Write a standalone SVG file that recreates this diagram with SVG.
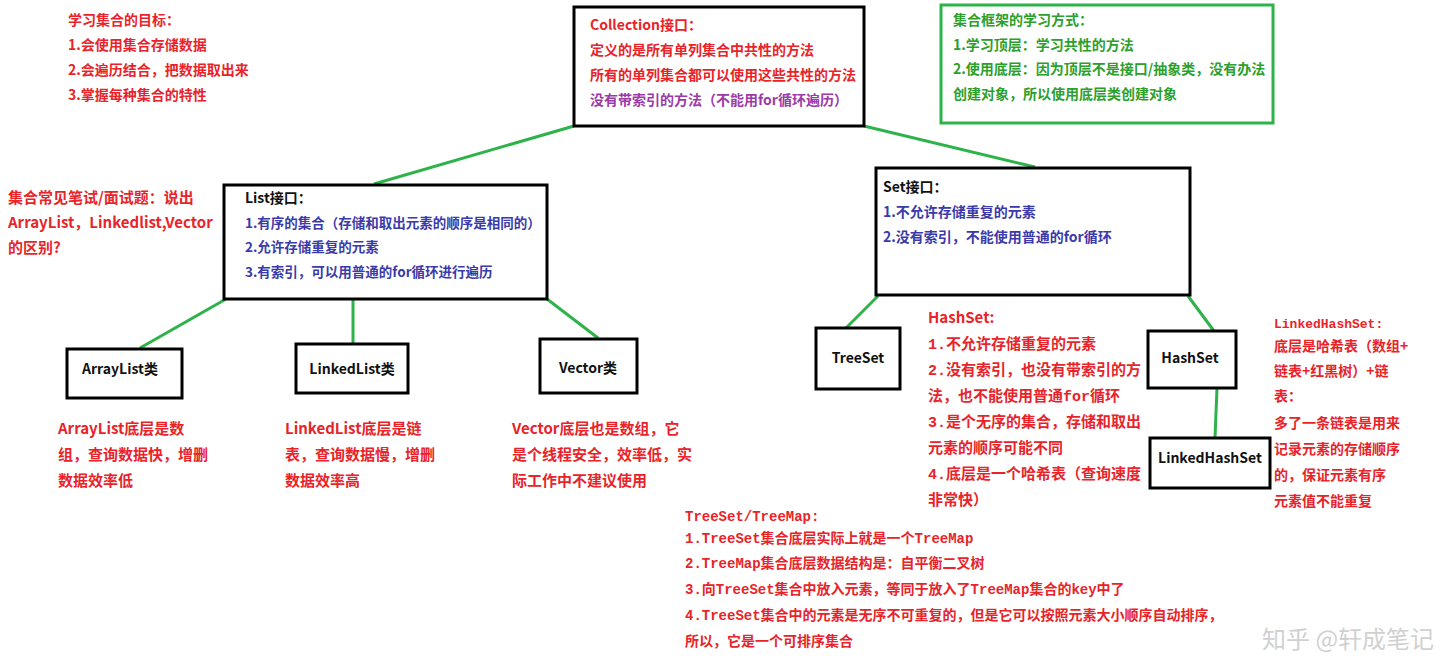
<svg xmlns="http://www.w3.org/2000/svg" width="1440" height="660" viewBox="0 0 1440 660">
<style>
text{font-family:"Microsoft YaHei","Noto Sans CJK SC",sans-serif;font-weight:bold;font-size:14px}
.r{fill:#e8242a}.b{fill:#3a3aaa}.k{fill:#111}.p{fill:#9b3ba8}.g{fill:#2ca02c}
.m{font-family:"Liberation Mono","Noto Sans CJK SC",monospace}
.box{fill:#fff;stroke:#000;stroke-width:3}
.c{stroke:#2eb24a;stroke-width:3;fill:none}
</style>
<rect width="1440" height="660" fill="#fff"/>
<g id="connectors">
<line class="c" x1="574" y1="126" x2="374" y2="184"/>
<line class="c" x1="864" y1="126" x2="1035" y2="167"/>
<line class="c" x1="226" y1="299" x2="140" y2="348"/>
<line class="c" x1="353" y1="299" x2="353" y2="344"/>
<line class="c" x1="547" y1="299" x2="598" y2="338"/>
<line class="c" x1="878" y1="296" x2="846" y2="328"/>
<line class="c" x1="1188" y1="296" x2="1214" y2="331"/>
<line class="c" x1="1217" y1="388" x2="1215" y2="438"/>
</g>
<g id="goals">
<text class="r" x="68" y="25">学习集合的目标：</text>
<text class="r" x="68" y="50">1.会使用集合存储数据</text>
<text class="r" x="68" y="75">2.会遍历结合，把数据取出来</text>
<text class="r" x="68" y="100">3.掌握每种集合的特性</text>
</g>
<g id="question">
<text class="r" x="8" y="203" style="font-size:15px">集合常见笔试/面试题：说出</text>
<text class="r" x="8" y="228" style="font-size:15px">ArrayList，Linkedlist,Vector</text>
<text class="r" x="8" y="253" style="font-size:15px">的区别?</text>
</g>
<g id="collection">
<rect class="box" x="574" y="7" width="290" height="119"/>
<text class="r" x="590" y="30">Collection接口：</text>
<text class="r" x="590" y="55">定义的是所有单列集合中共性的方法</text>
<text class="r" x="590" y="80">所有的单列集合都可以使用这些共性的方法</text>
<text class="p" x="590" y="105">没有带索引的方法（不能用for循环遍历）</text>
</g>
<g id="learning">
<rect x="941" y="5" width="332" height="118" fill="#fff" stroke="#2eb24a" stroke-width="3"/>
<text class="g" x="953" y="25">集合框架的学习方式：</text>
<text class="g" x="953" y="50">1.学习顶层：学习共性的方法</text>
<text class="g" x="953" y="74">2.使用底层：因为顶层不是接口/抽象类，没有办法</text>
<text class="g" x="953" y="99">创建对象，所以使用底层类创建对象</text>
</g>
<g id="list">
<rect class="box" x="224" y="185" width="323" height="114"/>
<text class="k" x="245" y="203">List接口：</text>
<text class="b" x="245" y="228" style="font-size:13.5px">1.有序的集合（存储和取出元素的顺序是相同的）</text>
<text class="b" x="245" y="252" style="font-size:13.5px">2.允许存储重复的元素</text>
<text class="b" x="245" y="277" style="font-size:13.5px">3.有索引，可以用普通的for循环进行遍历</text>
</g>
<g id="set">
<rect class="box" x="876" y="168" width="314" height="127"/>
<text class="k" x="883" y="192">Set接口：</text>
<text class="b" x="883" y="217">1.不允许存储重复的元素</text>
<text class="b" x="883" y="242">2.没有索引，不能使用普通的for循环</text>
</g>
<g id="arraylist">
<rect class="box" x="67" y="349" width="115" height="49"/>
<text class="k" x="120" y="374" text-anchor="middle">ArrayList类</text>
</g>
<g id="linkedlist">
<rect class="box" x="296" y="344" width="112" height="49"/>
<text class="k" x="352" y="374" text-anchor="middle">LinkedList类</text>
</g>
<g id="vector">
<rect class="box" x="540" y="339" width="97" height="54"/>
<text class="k" x="588" y="373" text-anchor="middle">Vector类</text>
</g>
<g id="treeset">
<rect class="box" x="816" y="328" width="84" height="61"/>
<text class="k" x="858" y="363" text-anchor="middle">TreeSet</text>
</g>
<g id="hashset">
<rect class="box" x="1148" y="331" width="88" height="57"/>
<text class="k" x="1190" y="363" text-anchor="middle">HashSet</text>
</g>
<g id="linkedhashset">
<rect class="box" x="1150" y="438" width="120" height="50"/>
<text class="k" x="1210" y="463" text-anchor="middle">LinkedHashSet</text>
</g>
<g id="arraylist-desc">
<text class="r" x="58" y="434" style="font-size:15px">ArrayList底层是数</text>
<text class="r" x="58" y="460" style="font-size:15px">组，查询数据快，增删</text>
<text class="r" x="58" y="486" style="font-size:15px">数据效率低</text>
</g>
<g id="linkedlist-desc">
<text class="r" x="285" y="434" style="font-size:15px">LinkedList底层是链</text>
<text class="r" x="285" y="460" style="font-size:15px">表，查询数据慢，增删</text>
<text class="r" x="285" y="486" style="font-size:15px">数据效率高</text>
</g>
<g id="vector-desc">
<text class="r" x="512" y="434" style="font-size:15px">Vector底层也是数组，它</text>
<text class="r" x="512" y="460" style="font-size:15px">是个线程安全，效率低，实</text>
<text class="r" x="512" y="486" style="font-size:15px">际工作中不建议使用</text>
</g>
<g id="hashset-desc">
<text class="r" x="928" y="323" style="font-size:15px">HashSet:</text>
<text class="r m" x="928" y="349" style="font-size:15px">1.不允许存储重复的元素</text>
<text class="r m" x="928" y="375" style="font-size:15px">2.没有索引，也没有带索引的方</text>
<text class="r m" x="928" y="401" style="font-size:15px">法，也不能使用普通for循环</text>
<text class="r m" x="928" y="427" style="font-size:15px">3.是个无序的集合，存储和取出</text>
<text class="r m" x="928" y="453" style="font-size:15px">元素的顺序可能不同</text>
<text class="r m" x="928" y="479" style="font-size:15px">4.底层是一个哈希表（查询速度</text>
<text class="r m" x="928" y="505" style="font-size:15px">非常快）</text>
</g>
<g id="linkedhashset-desc">
<text class="r m" x="1274" y="328" style="font-size:13px">LinkedHashSet:</text>
<text class="r" x="1274" y="351">底层是哈希表（数组+</text>
<text class="r" x="1274" y="376">链表+红黑树）+链</text>
<text class="r" x="1274" y="401">表：</text>
<text class="r" x="1274" y="428">多了一条链表是用来</text>
<text class="r" x="1274" y="454">记录元素的存储顺序</text>
<text class="r" x="1274" y="480">的，保证元素有序</text>
<text class="r" x="1274" y="506">元素值不能重复</text>
</g>
<g id="treemap-desc">
<text class="r m" x="685" y="521" style="font-size:14px">TreeSet/TreeMap:</text>
<text class="r m" x="685" y="543" style="font-size:14px">1.TreeSet集合底层实际上就是一个TreeMap</text>
<text class="r m" x="685" y="568" style="font-size:14px">2.TreeMap集合底层数据结构是：自平衡二叉树</text>
<text class="r m" x="685" y="594" style="font-size:14px">3.向TreeSet集合中放入元素，等同于放入了TreeMap集合的key中了</text>
<text class="r m" x="685" y="620" style="font-size:14px">4.TreeSet集合中的元素是无序不可重复的，但是它可以按照元素大小顺序自动排序，</text>
<text class="r m" x="685" y="646" style="font-size:14px">所以，它是一个可排序集合</text>
</g>
<text x="1262" y="648" style="font-size:24px;font-weight:normal;fill:#bbb;fill-opacity:0.7">知乎 @轩成笔记</text>
</svg>
